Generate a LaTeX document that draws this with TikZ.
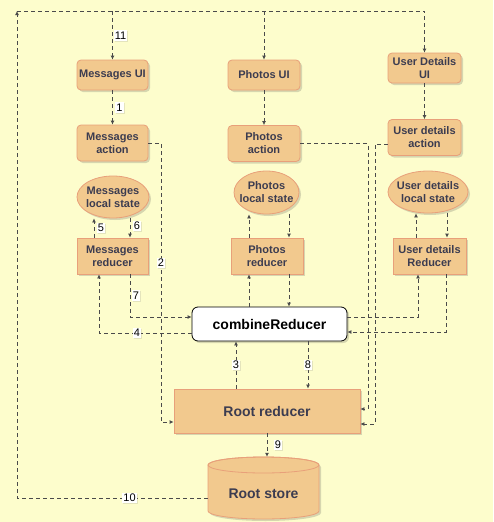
\documentclass[tikz,border=0pt]{standalone}
\usepackage{fontspec}
\setmainfont{Liberation Sans}
\usetikzlibrary{shapes.geometric,arrows.meta,shadows}
\definecolor{bg}{HTML}{FDFDCC}
\definecolor{nodefill}{HTML}{F2C98E}
\definecolor{nodeline}{HTML}{E8A07A}
\definecolor{nodetext}{HTML}{3C3C50}
\definecolor{edgecol}{HTML}{4A4A4A}
\begin{document}
\begin{tikzpicture}[x=1pt,y=-1pt,
  shad/.style={drop shadow={shadow xshift=2pt,shadow yshift=-2pt,opacity=0.22,fill=black!70}},
  box/.style={draw=nodeline,fill=nodefill,line width=0.8pt,text=nodetext,
    font=\fontsize{11}{13}\selectfont\bfseries,align=center,inner sep=0pt,shad},
  rbox/.style={box,rounded corners=4pt},
  ell/.style={box,ellipse,inner xsep=-4pt},
  bigtext/.style={font=\fontsize{14}{16}\selectfont\bfseries},
  edge/.style={draw=edgecol,line width=0.8pt,dash pattern=on 4pt off 3pt,
    -{Latex[length=4pt,width=4pt]}},
  lab/.style={fill=white,text=black,font=\fontsize{11}{12}\selectfont,inner xsep=1pt,inner ysep=1.5pt,
    drop shadow={shadow xshift=1pt,shadow yshift=-1pt,opacity=0.2}}
]
\fill[bg] (0,0) rectangle (493,522);
\useasboundingbox (0,0) rectangle (493,522);

% UI
\node[rbox,minimum width=71pt,minimum height=30pt] (mui) at (112.5,75) {Messages UI};
\node[rbox,minimum width=72pt,minimum height=30pt] (pui) at (264,75) {Photos UI};
\node[rbox,minimum width=73pt,minimum height=30pt] (udui) at (424.5,68) {User Details\\UI};
% actions
\node[rbox,minimum width=71pt,minimum height=36pt] (ma) at (112.5,143) {Messages\\action};
\node[rbox,minimum width=72pt,minimum height=36pt] (pa) at (264,143.5) {Photos\\action};
\node[rbox,minimum width=73pt,minimum height=36pt] (uda) at (424.5,137.5) {User details\\action};
% local states
\node[ell,minimum width=72pt,minimum height=42pt] (mls) at (113,197) {Messages\\local state};
\node[ell,minimum width=65pt,minimum height=43pt] (pls) at (266.5,192.5) {Photos\\local state};
\node[ell,minimum width=80pt,minimum height=42pt] (udls) at (428,192) {User details\\local state};
% reducers
\node[box,minimum width=71pt,minimum height=36pt] (mr) at (112.5,256) {Messages\\reducer};
\node[box,minimum width=72pt,minimum height=36pt] (pr) at (267,256) {Photos\\reducer};
\node[box,minimum width=73pt,minimum height=36pt] (udr) at (429.5,256) {User details\\Reducer};
% combine
\node[draw=black,fill=white,line width=0.8pt,rounded corners=6pt,shad,bigtext,text=black,
  minimum width=155pt,minimum height=34pt,inner sep=0pt] (cr) at (269.5,324) {combineReducer};
% root reducer
\node[box,bigtext,minimum width=186pt,minimum height=44pt] (rr) at (267,411) {Root reducer};
% root store (cylinder)
\node[minimum width=111pt,minimum height=62pt,inner sep=0pt] (rs) at (263.5,488) {};
\path[draw=nodeline,fill=nodefill,line width=0.8pt,shad]
  (208,465) -- (208,511) arc[start angle=180,end angle=360,x radius=55.5pt,y radius=8pt]
  -- (319,465) arc[start angle=0,end angle=180,x radius=55.5pt,y radius=8pt] -- cycle;
\draw[draw=nodeline,line width=0.8pt] (263.5,465) ellipse[x radius=55.5pt,y radius=8pt];
\node[text=nodetext,bigtext] (rst) at (263.5,494) {Root store};

% top loop
\coordinate (tl) at (17,11);
\draw[edge] (rs.west |- 0,498) -- node[lab,pos=0.41]{10} (17,498) -- (tl);
\draw[edge] (tl) -| (udui.north);
\draw[edge] (mui.north |- tl) -- node[lab,xshift=8pt]{11} (mui.north);
\draw[edge] (pui.north |- tl) -- (pui.north);

% UI -> actions
\draw[edge] (mui) -- node[lab,xshift=7pt]{1} (ma);
\draw[edge] (pui) -- (pa);
\draw[edge] (udui) -- (uda);

% actions -> root reducer
\draw[edge] (ma.east) -- (161,143) -- node[lab,pos=0.43]{2} (161,422) -- (rr.west |- 0,422);
\draw[edge] (pa.east) -- (368,143.5) -- (368,409) -- (rr.east |- 0,409);
\draw[edge] (uda.west |- 0,144) -- (375,144) -- (375,424) -- (rr.east |- 0,424);

% reducers <-> local states
\draw[edge] (mr.north -| 94,0) -- node[lab,xshift=7pt]{5} (mls.south -| 94,0);
\draw[edge] (mls.south -| 130,0) -- node[lab,xshift=7pt,yshift=2pt]{6} (mr.north -| 130,0);
\draw[edge] (pr.north -| 249,0) -- (pls.south -| 249,0);
\draw[edge] (pls.south -| 289,0) -- (pr.north -| 289,0);
\draw[edge] (udr.north -| 416,0) -- (udls.south -| 416,0);
\draw[edge] (udls.south -| 447,0) -- (udr.north -| 447,0);

% reducers <-> combine
\draw[edge] (mr.south -| 130,0) -- node[lab,xshift=6pt]{7} (130,317) -- (cr.west |- 0,317);
\draw[edge] (cr.west |- 0,333) -- node[lab,pos=0.59]{4} (99,333) -- (mr.south -| 99,0);
\draw[edge] (cr.north -| 249,0) -- (pr.south -| 249,0);
\draw[edge] (pr.south -| 289,0) -- (cr.north -| 289,0);
\draw[edge] (cr.east |- 0,317) -- (418,317) -- (udr.south -| 418,0);
\draw[edge] (udr.south -| 446,0) -- (446,332) -- (cr.east |- 0,332);

% combine <-> root reducer
\draw[edge] (rr.north -| 236,0) -- node[lab]{3} (cr.south -| 236,0);
\draw[edge] (cr.south -| 308,0) -- node[lab]{8} (rr.north -| 308,0);
% root reducer -> root store
\draw[edge] (rr.south -| 267,0) -- node[lab,xshift=11pt]{9} (rs.north -| 267,0);
\end{tikzpicture}
\end{document}
